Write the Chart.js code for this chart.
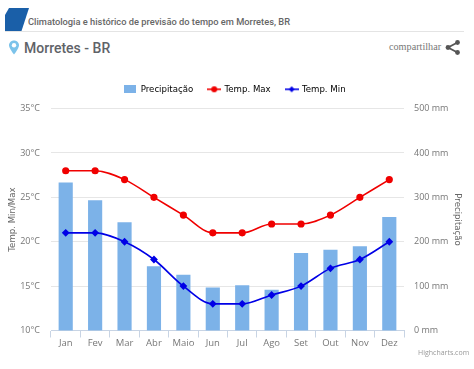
<!DOCTYPE html>
<html>
<head>
<meta charset="utf-8">
<script src="https://cdn.jsdelivr.net/npm/chart.js@4"></script>
<style>
  html, body { margin: 0; padding: 0; background: #fff; }
  body { width: 474px; height: 369px; position: relative; overflow: hidden; filter: blur(0.4px); }
  .abs { position: absolute; white-space: nowrap; }
  #flag { left: 5px; top: 8px; width: 24px; height: 23px; background: #1a5fa8; clip-path: polygon(0 100%, 0 30%, 4px 0, 100% 0, 16.5px 100%); }
  #rule { left: 5px; top: 31px; width: 459px; height: 1px; background: #e4e4e4; }
  #title { left: 28px; top: 16px; font: 500 9.3px Roboto, sans-serif; color: #666; }
  #city { left: 24px; top: 40px; font: 500 14px Roboto, sans-serif; color: #5f6368; }
  #share { left: 389px; top: 41px; font: 10.2px "Liberation Serif", serif; color: #777; }
  #credit { left: 418px; top: 348px; font: 7px "Open Sans", sans-serif; color: #999; }
  #pin { left: 8px; top: 40px; }
  #shareIcon { left: 445px; top: 40px; }
  #wrap { left: 0; top: 0; width: 474px; height: 369px; }
</style>
</head>
<body>
<div class="abs" id="flag"></div>
<div class="abs" id="rule"></div>
<div class="abs" id="title">Climatologia e histórico de previsão do tempo em Morretes, BR</div>
<svg class="abs" id="pin" width="12" height="15" viewBox="0 0 12 15"><path d="M6 0.5C3 0.5 1 2.7 1 5.3 1 8.5 6 14.5 6 14.5S11 8.5 11 5.3C11 2.7 9 0.5 6 0.5Z" fill="#7cc3ea"/><circle cx="6" cy="5.2" r="2.2" fill="#fff"/></svg>
<div class="abs" id="city">Morretes - BR</div>
<div class="abs" id="share">compartilhar</div>
<svg class="abs" id="shareIcon" width="16" height="15" viewBox="0 0 16 15"><path d="M12.5 2.5L3 7.5l9.5 5" stroke="#555" stroke-width="1.8" fill="none"/><circle cx="12.5" cy="2.5" r="2.4" fill="#555"/><circle cx="3" cy="7.5" r="2.4" fill="#555"/><circle cx="12.5" cy="12.5" r="2.4" fill="#555"/></svg>
<div class="abs" id="wrap"><canvas id="chart" width="474" height="369"></canvas></div>
<div class="abs" id="credit">Highcharts.com</div>

<script>
const months = ["Jan", "Fev", "Mar", "Abr", "Maio", "Jun", "Jul", "Ago", "Set", "Out", "Nov", "Dez"];
const precipitacao = [333, 293, 243, 144, 125, 96, 101, 91, 174, 181, 189, 255];
const tempMax = [28, 28, 27, 25, 23, 21, 21, 22, 22, 23, 25, 27];
const tempMin = [21, 21, 20, 18, 15, 13, 13, 14, 15, 17, 18, 20];

const RED = "#f00000";
const BLUE = "#0000e6";
const BAR = "#7cb2e8";
const LABEL = "#777";

// small legend symbols: line with its marker through the middle
function lineSymbol(color, diamond) {
  const c = document.createElement("canvas");
  c.width = 14; c.height = 8;
  const g = c.getContext("2d");
  g.strokeStyle = color; g.fillStyle = color; g.lineWidth = 1.6;
  g.beginPath(); g.moveTo(0, 4); g.lineTo(14, 4); g.stroke();
  g.beginPath();
  if (diamond) { g.moveTo(7, 1); g.lineTo(10, 4); g.lineTo(7, 7); g.lineTo(4, 4); }
  else g.arc(7, 4, 3, 0, Math.PI * 2);
  g.fill();
  return c;
}
function barSymbol() {
  const c = document.createElement("canvas");
  c.width = 12; c.height = 8;
  const g = c.getContext("2d");
  g.fillStyle = BAR; g.fillRect(0, 0, 12, 8);
  return c;
}

// extra room under the legend, labels.padding alone moves it too far
const legendGap = {
  id: "legendGap",
  beforeInit(chart) {
    const fit = chart.legend.fit;
    chart.legend.fit = function () {
      fit.call(this);
      this.height += 5;
    };
  }
};

new Chart(document.getElementById("chart"), {
  plugins: [legendGap],
  data: {
    labels: months,
    datasets: [
      { type: "bar", label: "Precipitação", data: precipitacao, yAxisID: "yRain", backgroundColor: BAR, barThickness: 13.5, order: 3 },
      { type: "line", label: "Temp. Max", data: tempMax, yAxisID: "yTemp", borderColor: RED, backgroundColor: RED, borderWidth: 1.6, pointRadius: 2.8, pointHoverRadius: 2.8, cubicInterpolationMode: "monotone", order: 2 },
      { type: "line", label: "Temp. Min", data: tempMin, yAxisID: "yTemp", borderColor: BLUE, backgroundColor: BLUE, borderWidth: 1.6, pointStyle: "rectRot", pointRadius: 2.8, pointHoverRadius: 2.8, cubicInterpolationMode: "monotone", order: 1 }
    ]
  },
  options: {
    responsive: false,
    animation: false,
    layout: { padding: { top: 70, right: 12, bottom: 0, left: 8 } },
    plugins: {
      tooltip: { enabled: false },
      legend: {
        position: "top",
        labels: {
          usePointStyle: true,
          pointStyleWidth: 12,
          padding: 15,
          color: "#555",
          font: { family: "'DejaVu Sans', sans-serif", size: 8.6 },
          generateLabels: () => [
            { text: "Precipitação", pointStyle: barSymbol(), datasetIndex: 0, lineWidth: 0 },
            { text: "Temp. Max", pointStyle: lineSymbol(RED, false), datasetIndex: 1, lineWidth: 0 },
            { text: "Temp. Min", pointStyle: lineSymbol(BLUE, true), datasetIndex: 2, lineWidth: 0 }
          ]
        }
      }
    },
    scales: {
      x: {
        grid: { offset: true, drawOnChartArea: false, color: "#c8d4e4", tickLength: 7 },
        border: { color: "#c8d4e4" },
        ticks: { color: LABEL, padding: 0, font: { family: "'Open Sans', sans-serif", size: 9.5 }, maxRotation: 0, autoSkip: false },
        afterFit: s => { s.height = 38.5; }
      },
      yTemp: {
        position: "left",
        min: 10, max: 35,
        grid: { color: "#e6e6e6", drawTicks: false },
        border: { display: false },
        ticks: { stepSize: 5, padding: 11, color: LABEL, font: { family: "'Open Sans', sans-serif", size: 9 }, callback: v => v + "°C" },
        title: { display: true, text: "Temp. Min/Max", color: "#666", padding: 0, font: { family: "'DejaVu Sans', sans-serif", size: 8.6 } },
        afterFit: s => { s.width = 43; }
      },
      yRain: {
        position: "right",
        min: 0, max: 500,
        grid: { display: false, drawTicks: false },
        border: { display: false },
        ticks: { stepSize: 100, padding: 10, color: LABEL, font: { family: "'Open Sans', sans-serif", size: 9 }, callback: v => v + " mm" },
        title: { display: true, text: "Precipitação", color: "#666", padding: 0, font: { family: "'DejaVu Sans', sans-serif", size: 8.6 } },
        afterFit: s => { s.width = 58; }
      }
    }
  }
});
</script>
</body>
</html>
